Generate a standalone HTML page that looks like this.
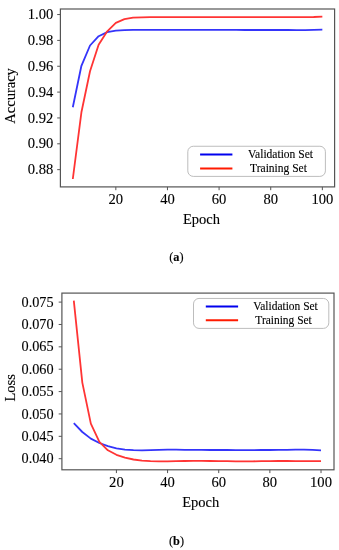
<!DOCTYPE html>
<html><head><meta charset="utf-8"><style>
html,body{margin:0;padding:0;background:#fff;}
body{width:339px;height:550px;overflow:hidden;}
svg{display:block;}
text{font-family:"Liberation Serif","Times New Roman",serif;fill:#000;stroke:#000;stroke-width:0.12px;}
.t{font-size:14.6px;}
.l{font-size:14.5px;}
.g{font-size:11.6px;}
.c{font-size:12.3px;}
</style></head><body>
<svg width="339" height="550" viewBox="0 0 339 550">
<polyline fill="none" stroke="#3434fa" stroke-width="1.8" stroke-linejoin="round" points="72.81,107.30 81.41,65.80 90.02,45.50 98.62,36.20 107.23,32.10 115.83,30.70 124.44,30.10 133.04,29.90 141.65,29.80 150.25,29.80 158.86,29.80 167.46,29.80 176.06,29.80 184.67,29.80 193.28,29.80 201.88,29.80 210.49,29.80 219.09,29.80 227.69,29.80 236.30,29.80 244.91,30.00 253.51,30.00 262.12,30.00 270.72,30.00 279.32,30.00 287.93,30.00 296.54,30.20 305.14,30.10 313.75,29.90 322.35,29.70"/>
<polyline fill="none" stroke="#ff3434" stroke-width="1.8" stroke-linejoin="round" points="72.81,179.00 81.41,112.30 90.02,71.30 98.62,44.70 107.23,31.30 115.83,22.80 124.44,19.10 133.04,17.70 141.65,17.30 150.25,17.10 158.86,17.10 167.46,17.10 176.06,17.10 184.67,17.10 193.28,17.10 201.88,17.10 210.49,17.10 219.09,17.10 227.69,17.10 236.30,17.10 244.91,17.10 253.51,17.10 262.12,17.10 270.72,17.10 279.32,17.10 287.93,17.10 296.54,17.10 305.14,17.10 313.75,17.00 322.35,16.70"/>
<rect x="60.40" y="9.00" width="274.20" height="177.90" fill="none" stroke="#555" stroke-width="1.2"/>
<line x1="57.20" y1="14.55" x2="60.40" y2="14.55" stroke="#555" stroke-width="1"/>
<text x="53.30" y="19.15" text-anchor="end" class="t">1.00</text>
<line x1="57.20" y1="40.40" x2="60.40" y2="40.40" stroke="#555" stroke-width="1"/>
<text x="53.30" y="45.00" text-anchor="end" class="t">0.98</text>
<line x1="57.20" y1="66.25" x2="60.40" y2="66.25" stroke="#555" stroke-width="1"/>
<text x="53.30" y="70.85" text-anchor="end" class="t">0.96</text>
<line x1="57.20" y1="92.10" x2="60.40" y2="92.10" stroke="#555" stroke-width="1"/>
<text x="53.30" y="96.70" text-anchor="end" class="t">0.94</text>
<line x1="57.20" y1="117.95" x2="60.40" y2="117.95" stroke="#555" stroke-width="1"/>
<text x="53.30" y="122.55" text-anchor="end" class="t">0.92</text>
<line x1="57.20" y1="143.80" x2="60.40" y2="143.80" stroke="#555" stroke-width="1"/>
<text x="53.30" y="148.40" text-anchor="end" class="t">0.90</text>
<line x1="57.20" y1="169.65" x2="60.40" y2="169.65" stroke="#555" stroke-width="1"/>
<text x="53.30" y="174.25" text-anchor="end" class="t">0.88</text>
<line x1="115.83" y1="186.90" x2="115.83" y2="190.20" stroke="#555" stroke-width="1"/>
<text x="115.83" y="203.80" text-anchor="middle" class="t">20</text>
<line x1="167.46" y1="186.90" x2="167.46" y2="190.20" stroke="#555" stroke-width="1"/>
<text x="167.46" y="203.80" text-anchor="middle" class="t">40</text>
<line x1="219.09" y1="186.90" x2="219.09" y2="190.20" stroke="#555" stroke-width="1"/>
<text x="219.09" y="203.80" text-anchor="middle" class="t">60</text>
<line x1="270.72" y1="186.90" x2="270.72" y2="190.20" stroke="#555" stroke-width="1"/>
<text x="270.72" y="203.80" text-anchor="middle" class="t">80</text>
<line x1="322.35" y1="186.90" x2="322.35" y2="190.20" stroke="#555" stroke-width="1"/>
<text x="322.35" y="203.80" text-anchor="middle" class="t">100</text>
<text x="14.60" y="95.90" text-anchor="middle" class="l" transform="rotate(-90 14.60 95.90)">Accuracy</text>
<text x="201.50" y="224.00" text-anchor="middle" class="l">Epoch</text>
<rect x="187.80" y="146.25" width="137.60" height="30.15" rx="5.5" fill="#fff" stroke="#bdbdbd" stroke-width="1"/>
<line x1="200.10" y1="154.45" x2="232.40" y2="154.45" stroke="#0000ee" stroke-width="2.0"/>
<line x1="200.10" y1="168.55" x2="232.40" y2="168.55" stroke="#ff1a00" stroke-width="2.0"/>
<text x="248.10" y="157.95" class="g" style="font-size:11.5px">Validation Set</text>
<text x="250.10" y="171.55" class="g" style="font-size:11.5px">Training Set</text>
<polyline fill="none" stroke="#3434fa" stroke-width="1.8" stroke-linejoin="round" points="73.80,423.20 82.32,432.00 90.84,438.60 99.37,443.00 107.90,446.20 116.42,448.40 124.94,449.60 133.47,450.20 142.00,450.30 150.52,450.10 159.04,449.80 167.57,449.70 176.10,449.70 184.62,449.80 193.14,449.90 201.67,449.90 210.19,450.00 218.72,450.00 227.25,450.00 235.77,450.10 244.30,450.10 252.82,450.10 261.35,450.00 269.87,450.00 278.39,449.90 286.92,449.80 295.44,449.70 303.97,449.70 312.50,449.90 321.02,450.40"/>
<polyline fill="none" stroke="#ff3434" stroke-width="1.8" stroke-linejoin="round" points="73.80,300.60 82.32,382.60 90.84,423.60 99.37,441.80 107.90,450.30 116.42,454.80 124.94,457.60 133.47,459.50 142.00,460.70 150.52,461.20 159.04,461.30 167.57,461.30 176.10,461.20 184.62,461.00 193.14,460.90 201.67,460.90 210.19,461.00 218.72,461.10 227.25,461.20 235.77,461.30 244.30,461.30 252.82,461.30 261.35,461.20 269.87,461.10 278.39,461.00 286.92,461.00 295.44,461.10 303.97,461.20 312.50,461.20 321.02,461.10"/>
<rect x="61.90" y="293.10" width="272.10" height="176.70" fill="none" stroke="#555" stroke-width="1.2"/>
<line x1="58.70" y1="302.10" x2="61.90" y2="302.10" stroke="#555" stroke-width="1"/>
<text x="53.60" y="306.70" text-anchor="end" class="t" style="font-size:14.25px">0.075</text>
<line x1="58.70" y1="324.47" x2="61.90" y2="324.47" stroke="#555" stroke-width="1"/>
<text x="53.60" y="329.07" text-anchor="end" class="t" style="font-size:14.25px">0.070</text>
<line x1="58.70" y1="346.84" x2="61.90" y2="346.84" stroke="#555" stroke-width="1"/>
<text x="53.60" y="351.44" text-anchor="end" class="t" style="font-size:14.25px">0.065</text>
<line x1="58.70" y1="369.21" x2="61.90" y2="369.21" stroke="#555" stroke-width="1"/>
<text x="53.60" y="373.81" text-anchor="end" class="t" style="font-size:14.25px">0.060</text>
<line x1="58.70" y1="391.58" x2="61.90" y2="391.58" stroke="#555" stroke-width="1"/>
<text x="53.60" y="396.18" text-anchor="end" class="t" style="font-size:14.25px">0.055</text>
<line x1="58.70" y1="413.95" x2="61.90" y2="413.95" stroke="#555" stroke-width="1"/>
<text x="53.60" y="418.55" text-anchor="end" class="t" style="font-size:14.25px">0.050</text>
<line x1="58.70" y1="436.32" x2="61.90" y2="436.32" stroke="#555" stroke-width="1"/>
<text x="53.60" y="440.92" text-anchor="end" class="t" style="font-size:14.25px">0.045</text>
<line x1="58.70" y1="458.69" x2="61.90" y2="458.69" stroke="#555" stroke-width="1"/>
<text x="53.60" y="463.29" text-anchor="end" class="t" style="font-size:14.25px">0.040</text>
<line x1="116.42" y1="469.80" x2="116.42" y2="473.10" stroke="#555" stroke-width="1"/>
<text x="116.42" y="486.60" text-anchor="middle" class="t">20</text>
<line x1="167.57" y1="469.80" x2="167.57" y2="473.10" stroke="#555" stroke-width="1"/>
<text x="167.57" y="486.60" text-anchor="middle" class="t">40</text>
<line x1="218.72" y1="469.80" x2="218.72" y2="473.10" stroke="#555" stroke-width="1"/>
<text x="218.72" y="486.60" text-anchor="middle" class="t">60</text>
<line x1="269.87" y1="469.80" x2="269.87" y2="473.10" stroke="#555" stroke-width="1"/>
<text x="269.87" y="486.60" text-anchor="middle" class="t">80</text>
<line x1="321.02" y1="469.80" x2="321.02" y2="473.10" stroke="#555" stroke-width="1"/>
<text x="321.02" y="486.60" text-anchor="middle" class="t">100</text>
<text x="14.60" y="387.80" text-anchor="middle" class="l" transform="rotate(-90 14.60 387.80)">Loss</text>
<text x="200.70" y="506.70" text-anchor="middle" class="l">Epoch</text>
<rect x="193.50" y="298.45" width="135.30" height="29.95" rx="5.5" fill="#fff" stroke="#bdbdbd" stroke-width="1"/>
<line x1="205.80" y1="306.45" x2="238.10" y2="306.45" stroke="#0000ee" stroke-width="2.0"/>
<line x1="205.80" y1="320.25" x2="238.10" y2="320.25" stroke="#ff1a00" stroke-width="2.0"/>
<text x="253.30" y="310.15" class="g" style="font-size:11.45px">Validation Set</text>
<text x="255.30" y="323.55" class="g" style="font-size:11.45px">Training Set</text>
<text x="176.4" y="261.0" text-anchor="middle" class="c">(<tspan font-weight="bold">a</tspan>)</text>
<text x="176.5" y="544.7" text-anchor="middle" class="c">(<tspan font-weight="bold">b</tspan>)</text>
</svg>
</body></html>
